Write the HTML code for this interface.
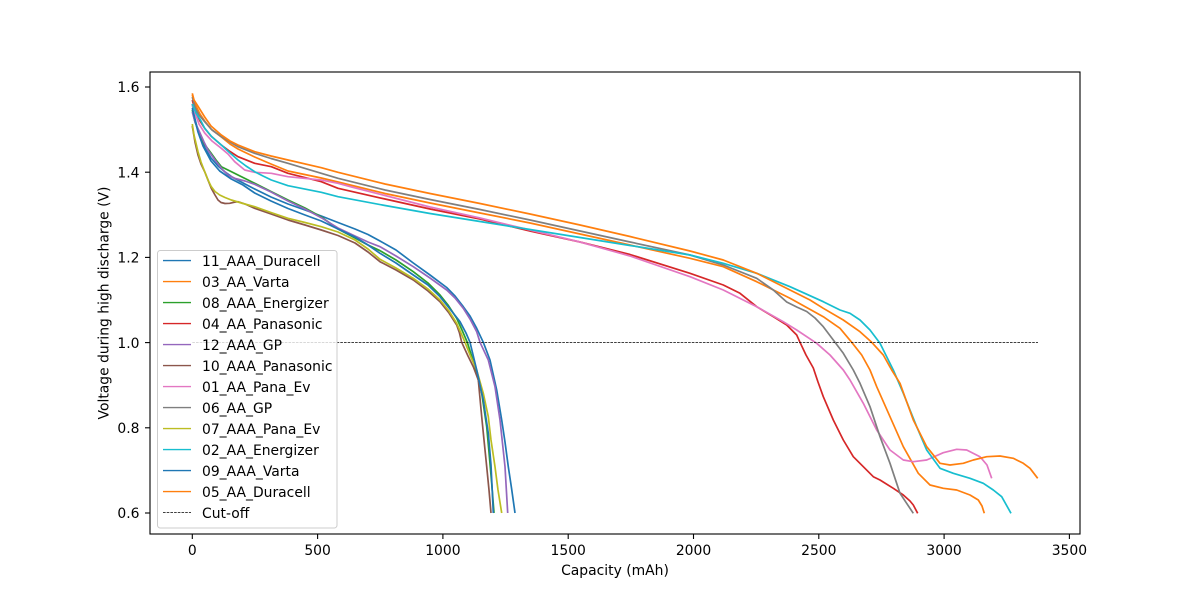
<!DOCTYPE html>
<html>
<head>
<meta charset="utf-8">
<style>
  html, body { margin: 0; padding: 0; background: #ffffff; }
  svg { display: block; }
  text { font-family: "DejaVu Sans", "Liberation Sans", sans-serif; font-size: 13.9px; fill: #000; }
  .c { fill: none; stroke-width: 1.7; stroke-linejoin: round; stroke-linecap: butt; }
</style>
</head>
<body>
<svg width="1200" height="600" viewBox="0 0 1200 600" xmlns="http://www.w3.org/2000/svg">
  <rect x="0" y="0" width="1200" height="600" fill="#ffffff"/>

  <!-- series -->
  <path class="c" stroke="#1f77b4" d="M192.3,104 L194,115 197,127 200,137 205,148 211,158 218,166 225,172 232,177 245,184 254.7,189 271,197 288,204 305,210 321.3,216 338,222.5 355,229 368,234.5 380,241 396,250 413.3,263 430,275 446.7,287.5 455,296 463.3,306.7 470,316 476.7,328.3 483.3,342.3 490,360 496.7,390 501.7,420 505,442 508.3,466.7 511.5,488 515,513"/>
  <path class="c" stroke="#ff7f0e" d="M192.3,95 L195,104 200,114 204.7,121 211,129 221.3,137 230,144 238,149 254.7,157 271,164 288,171 321.3,178 338,182 385,193.5 430,203 480,213 530,223 580,234 630,245 690,258.3 723.3,266.7 756.7,281.7 790,298.3 823.3,316.7 840,328.3 851.7,342.3 861.7,355 870,370 876.7,386.7 890,416.7 903.3,446.7 918.3,473.3 930,485 943.3,488.3 956.7,490 970,495 978.3,500 982,506 984.3,513.3"/>
  <path class="c" stroke="#2ca02c" d="M192.3,110 L195,122 200,135 205,145 211,153 216,160 221.3,166.7 230,171 238,175 254.7,183.3 271,191.5 288,200 305,208 321.3,217 338,229 355,238 368,245 380,250.7 396,260 413.3,271.7 428,283 440,295 448,305 456.7,318.3 462,330 467.3,342.3 475,366.7 481.7,393.3 486.7,426.7 489,452 491.7,483.3 494,513"/>
  <path class="c" stroke="#d62728" d="M192.3,100 L195,110 200,121 204.7,128.3 211,136 221.3,145 230,151.5 238,156.7 254.7,163.3 271.3,166.7 288,173.3 321.3,181.7 338,188.3 385,199 430,209 480,219 530,231 580,242 630,254.5 690,273.3 723.3,285 740,293.3 756.7,306.7 773.3,316.7 786.7,325 796.7,335 800,342.3 806,355 813.3,368 818,382 823.3,396.7 833.3,420 843.3,440 853.3,456.7 863.3,466.7 873.3,476.7 880,480 893.3,488.3 903.3,495 910,501 913.3,505 917.7,513.3"/>
  <path class="c" stroke="#9467bd" d="M192.3,112 L195,122 200,133 204,142 208,150 215,160 222,169 228,175 234.7,178.3 245,181 254.7,184.3 271,192 288,201 305,209 321.3,217.7 338,228 355,236 368,242 380,246.7 396,256 413.3,266.7 430,278 446.7,290 455,298 463.3,308.3 470,319 476.7,331.7 480,342.3 488.3,360 495,386.7 500,420 505,466.7 507.7,513"/>
  <path class="c" stroke="#8c564b" d="M192.3,126 L195,142 198,155 201,164 204.7,171.7 208,180 211.3,188.3 215,195 218,200 221,202.5 225,203.5 229.7,203.3 234,202.3 238,201.7 245,204 254.7,208.3 271,214 288,220 305,225 321.3,230 338,235.5 355,243 368,252 380,261.7 396,270 413.3,280 428,291 440,301.7 449,313 456.7,325 459.5,333 461.7,342.3 468,356 473.3,366.7 478.3,380 481.7,416.7 484,440 486.7,466.7 489,490 491,513"/>
  <path class="c" stroke="#e377c2" d="M192.3,105 L195,113 199,124 204.7,133 212,141 221.3,148.3 228,154 234.7,161.7 244.7,170 254.7,172.3 271.3,173.3 288,176.7 321.3,180 338,183.3 351.7,187 385,195.5 430,207 480,218 530,230 580,242 630,256 690,276.7 723.3,290 756.7,306.7 783.3,321.7 796.7,330 816.7,343.3 830,355 843.3,370 850,380 863.3,403.3 876.7,430 890,450 903.3,460 913.3,461.7 926.7,460 943.3,452.7 956.7,449.3 966.7,450 980,456.7 987,465 991.7,478.3"/>
  <path class="c" stroke="#7f7f7f" d="M192.3,97 L195,107 199,115 204.7,121.7 212,130 221.3,136.7 230,142 238,146.7 254.7,153.3 271,158.5 288,163.3 321.3,173.3 338,178.3 385,190 430,199.5 480,209.5 530,220 580,231 630,242 690,255 723.3,265 756.7,278.3 773.3,290 786.7,302 796.7,307 806.7,311.5 815,318 823.3,326.7 833.3,340 843.3,353.3 853.3,370 860,383.3 870,406.7 880,436.7 890,463.3 900,493.3 913.3,513.3"/>
  <path class="c" stroke="#bcbd22" d="M192.3,124 L194,135 198,151.7 201,162 204.7,171.7 208,180 211.3,186.7 215,191.5 219.7,195 225,197.5 231.3,200 243,203.5 254.7,206.7 271,212.5 288,218.3 305,222.5 321.3,226.7 338,232 355,240 368,249 380,259.3 396,268 413.3,278.3 428,289 440,300 449,311 456.7,323.3 461,333 465,342.3 470,355 476.7,370 483.3,393.3 488.3,416.7 491,440 495,466.7 498,490 501.7,513"/>
  <path class="c" stroke="#17becf" d="M192.3,104 L196,113 201,121 204.7,128.3 212,137 221.3,145 230,153 238,160 246,166 254.7,171.7 263,176 271.3,180 288,185.7 321.3,192.3 338,196.7 385,205.5 430,213.5 480,221.5 530,229.5 580,237.5 630,245.5 690,255 723.3,263.3 756.7,273.3 790,286.7 823.3,301.7 840,310 850,313.3 860,320 870,330 880,343.3 893.3,370 903.3,393.3 916.7,426.7 926.7,450 940,468.3 953.3,473.3 970,478.3 983.3,483.3 993.3,490 1001.7,496.7 1011,513.3"/>
  <path class="c" stroke="#1f77b4" d="M192.3,108 L195,120 198,132 203,146 211,161 219.7,171 231.3,179 243,185 254.7,193 271,201 288,208.5 305,215 321.3,221 338,229 355,237 368,245 380,253.3 396,263 413.3,275 428,285 440,296.7 450,309 460,321.7 466,333 470,342.3 476.7,370 483.3,400 488.3,433.3 491,465 493.3,513"/>
  <path class="c" stroke="#ff7f0e" d="M192.3,93.3 L194,100 198.3,106.7 204.7,117 211,126 221.3,135 230,141 238,145 254.7,151.7 271,156 288,160 321.3,167.7 338,172.3 385,184 430,193.5 480,203.5 530,214 580,225 630,236.5 690,251 723.3,260 756.7,273.3 790,290 810,300 823.3,308.3 843.3,320 860,331.7 871.7,342.3 883.3,355 891.7,370 900,383.3 913.3,420 926.7,446.7 940,463.3 950,465 963.3,463.3 973.3,460 986.7,456.7 1000,456 1013.3,458.3 1023.3,463.3 1030,468.3 1037.7,478.3"/>

  <!-- cut-off -->
  <line x1="192.3" y1="342.6" x2="1038" y2="342.6" stroke="#000" stroke-width="0.7" stroke-dasharray="2.6 1.1"/>

  <!-- axes frame -->
  <rect x="150" y="72" width="930" height="462" fill="none" stroke="#000" stroke-width="1.1"/>

  <!-- x ticks -->
  <g stroke="#000" stroke-width="1.1">
    <line x1="192.3" y1="534" x2="192.3" y2="539"/>
    <line x1="317.6" y1="534" x2="317.6" y2="539"/>
    <line x1="442.9" y1="534" x2="442.9" y2="539"/>
    <line x1="568.2" y1="534" x2="568.2" y2="539"/>
    <line x1="693.5" y1="534" x2="693.5" y2="539"/>
    <line x1="818.8" y1="534" x2="818.8" y2="539"/>
    <line x1="944.1" y1="534" x2="944.1" y2="539"/>
    <line x1="1069.4" y1="534" x2="1069.4" y2="539"/>
    <line x1="145" y1="513" x2="150" y2="513"/>
    <line x1="145" y1="427.8" x2="150" y2="427.8"/>
    <line x1="145" y1="342.6" x2="150" y2="342.6"/>
    <line x1="145" y1="257.4" x2="150" y2="257.4"/>
    <line x1="145" y1="172.2" x2="150" y2="172.2"/>
    <line x1="145" y1="87" x2="150" y2="87"/>
  </g>
  <g text-anchor="middle">
    <text x="192.3" y="555">0</text>
    <text x="317.6" y="555">500</text>
    <text x="442.9" y="555">1000</text>
    <text x="568.2" y="555">1500</text>
    <text x="693.5" y="555">2000</text>
    <text x="818.8" y="555">2500</text>
    <text x="944.1" y="555">3000</text>
    <text x="1069.4" y="555">3500</text>
  </g>
  <g text-anchor="end">
    <text x="139.5" y="518.2">0.6</text>
    <text x="139.5" y="433">0.8</text>
    <text x="139.5" y="347.8">1.0</text>
    <text x="139.5" y="262.6">1.2</text>
    <text x="139.5" y="177.4">1.4</text>
    <text x="139.5" y="92.2">1.6</text>
  </g>
  <text x="615" y="575" text-anchor="middle">Capacity (mAh)</text>
  <text transform="translate(108.4,303) rotate(-90)" text-anchor="middle">Voltage during high discharge (V)</text>

  <!-- legend -->
  <rect x="157.5" y="250.5" width="179.5" height="277.5" rx="2.8" ry="2.8" fill="#ffffff" fill-opacity="0.8" stroke="#cccccc" stroke-width="1"/>
  <g stroke-width="1.4">
    <line x1="163" y1="260.6" x2="191" y2="260.6" stroke="#1f77b4"/>
    <line x1="163" y1="281.6" x2="191" y2="281.6" stroke="#ff7f0e"/>
    <line x1="163" y1="302.6" x2="191" y2="302.6" stroke="#2ca02c"/>
    <line x1="163" y1="323.6" x2="191" y2="323.6" stroke="#d62728"/>
    <line x1="163" y1="344.6" x2="191" y2="344.6" stroke="#9467bd"/>
    <line x1="163" y1="365.6" x2="191" y2="365.6" stroke="#8c564b"/>
    <line x1="163" y1="386.6" x2="191" y2="386.6" stroke="#e377c2"/>
    <line x1="163" y1="407.6" x2="191" y2="407.6" stroke="#7f7f7f"/>
    <line x1="163" y1="428.6" x2="191" y2="428.6" stroke="#bcbd22"/>
    <line x1="163" y1="449.6" x2="191" y2="449.6" stroke="#17becf"/>
    <line x1="163" y1="470.6" x2="191" y2="470.6" stroke="#1f77b4"/>
    <line x1="163" y1="491.6" x2="191" y2="491.6" stroke="#ff7f0e"/>
  </g>
  <line x1="163" y1="512.6" x2="191" y2="512.6" stroke="#000" stroke-width="0.7" stroke-dasharray="2.6 1.1"/>
  <g>
    <text x="202" y="265.8">11_AAA_Duracell</text>
    <text x="202" y="286.8">03_AA_Varta</text>
    <text x="202" y="307.8">08_AAA_Energizer</text>
    <text x="202" y="328.8">04_AA_Panasonic</text>
    <text x="202" y="349.8">12_AAA_GP</text>
    <text x="202" y="370.8">10_AAA_Panasonic</text>
    <text x="202" y="391.8">01_AA_Pana_Ev</text>
    <text x="202" y="412.8">06_AA_GP</text>
    <text x="202" y="433.8">07_AAA_Pana_Ev</text>
    <text x="202" y="454.8">02_AA_Energizer</text>
    <text x="202" y="475.8">09_AAA_Varta</text>
    <text x="202" y="496.8">05_AA_Duracell</text>
    <text x="202" y="517.8">Cut-off</text>
  </g>
</svg>
</body>
</html>
